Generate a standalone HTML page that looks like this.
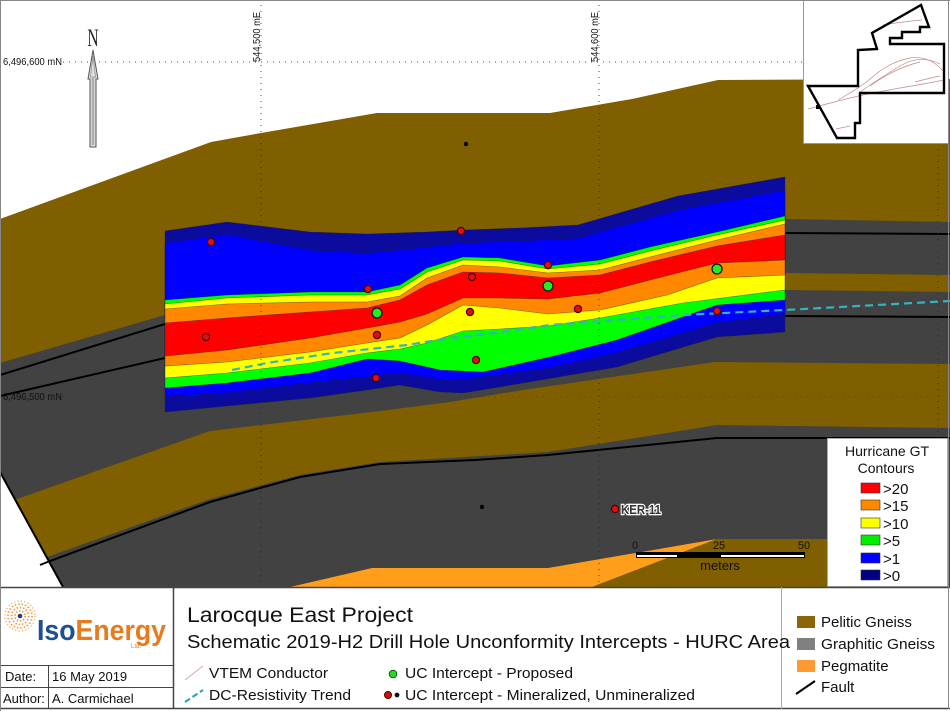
<!DOCTYPE html>
<html>
<head>
<meta charset="utf-8">
<style>
  html,body{margin:0;padding:0;background:#fff;}
  body{width:950px;height:711px;overflow:hidden;}
  svg{display:block;font-family:"Liberation Sans",Arial,sans-serif;}
</style>
</head>
<body>
<svg width="950" height="711" viewBox="0 0 950 711" xmlns="http://www.w3.org/2000/svg">
  <rect x="0" y="0" width="950" height="711" fill="#fff"/>

  <!-- ===== MAP GEOLOGY ===== -->
  <polygon fill="#7f5f00" points="0,219 211,142 261,133 377,113 550,113 632,99 718,80 950,79 950,587 0,587"/>
  <polygon fill="#424242" points="0,363 165,315 785,219 950,222 950,587 0,587"/>
  <polygon fill="#7f5f00" points="785,273 950,275 950,292 785,290"/>
  <polygon fill="#7f5f00" points="0,505 210,431 380,411 450,402 523,390 715,362 950,364 950,428 717,425 548,452 380,462 300,475 210,499 50,556 0,575"/>
  <polygon fill="#ff9e1b" points="290,587 372,568 548,568 717,539 592,587"/>
  <polygon fill="#7f5f00" points="717,539 827,539 827,587 592,587"/>
  <polygon fill="#fff" points="0,472 63,587 0,587"/>
  <line x1="0" y1="472" x2="63" y2="587" stroke="#000" stroke-width="2"/>

  <g stroke="#000" stroke-width="2" fill="none">
    <line x1="0" y1="375" x2="165" y2="324"/>
    <line x1="0" y1="396" x2="165" y2="358"/>
    <line x1="785" y1="233" x2="950" y2="234"/>
    <line x1="785" y1="316" x2="950" y2="317"/>
    <polyline points="40,565 50,561 210,502 260,488 300,477 380,464 475,460 548,455 717,438 950,438"/>
  </g>

  <!-- ===== CONTOURS ===== -->
  <g stroke="#222" stroke-width="0.6" stroke-opacity="0.6">
    <polygon fill="#0b0b9e" points="165,231 227,222 310,232 367,234 427,232 463,230 520,228 578,225 678,196 785,177 785,332 717,337 617,367 523,383 463,393 440,392 400,385 367,390 310,398 227,406 165,412"/>
    <polygon fill="#0000ff" points="165,243 227,234 310,250 367,253 427,247 463,243 520,241 578,238 678,210 785,190 785,314 717,323 617,353 550,368 463,380 440,380 400,373 367,377 310,383 227,393 165,397"/>
    <polygon fill="#00ff00" points="165,300 227,295 310,292 367,292 400,285 427,268 463,257 500,258 548,266 600,260 650,247 717,232 785,216 785,300 717,305 617,340 550,357 483,372 440,370 400,361 367,359 310,373 227,383 165,388"/>
    <polygon fill="#ffff00" points="165,304 227,298 310,295 367,295 400,289 427,272 463,260 500,261 548,269 600,264 650,251 717,235 785,220 785,290 683,303 600,318 548,326 500,329 463,331 427,343 400,349 367,353 310,363 227,373 165,378"/>
    <polygon fill="#ff8800" points="165,309 227,304 310,302 367,302 400,296 427,278 463,265 500,267 548,273 600,270 650,257 717,240 785,224 785,275 717,278 667,295 600,310 548,314 500,308 463,305 427,325 400,338 367,343 310,352 227,362 165,366"/>
    <polygon fill="#ff0000" points="165,323 227,318 310,312 367,308 400,300 427,285 463,272 500,273 548,278 600,275 650,262 717,246 785,235 785,260 717,263 650,280 600,293 548,299 500,298 463,298 427,314 400,322 367,328 310,338 227,350 165,356"/>
  </g>

  <polyline fill="none" stroke="#33b5bd" stroke-width="2.2" stroke-dasharray="8,5" points="232,370 267,363 333,353 407,345 450,338 480,335 550,325 683,315 785,310 950,301"/>

  <!-- Grid -->
  <g stroke="#222" stroke-width="1" stroke-dasharray="1,5" fill="none" opacity="0.8">
    <line x1="261" y1="5" x2="261" y2="587"/>
    <line x1="599" y1="5" x2="599" y2="587"/>
    <line x1="938" y1="143" x2="938" y2="587"/>
    <line x1="63" y1="62" x2="803" y2="62"/>
    <line x1="63" y1="397" x2="950" y2="397" opacity="0.5"/>
  </g>
  <g font-size="10.5" fill="#111">
    <text x="3" y="65" textLength="59" lengthAdjust="spacingAndGlyphs">6,496,600 mN</text>
    <text x="3" y="400" textLength="59" lengthAdjust="spacingAndGlyphs">6,496,500 mN</text>
    <text transform="translate(261,62) rotate(-90)" x="0" y="-1" textLength="50" lengthAdjust="spacingAndGlyphs">544,500 mE</text>
    <text transform="translate(599,62) rotate(-90)" x="0" y="-1" textLength="50" lengthAdjust="spacingAndGlyphs">544,600 mE</text>
  </g>

  <!-- North arrow -->
  <text x="93" y="46" font-family="Liberation Serif, serif" font-size="25" text-anchor="middle" transform="translate(93,0) scale(0.62,1) translate(-93,0)" fill="#222">N</text>
  <polygon points="93,50 98,79 96,79 96,147 90,147 90,79 88,79" fill="#e0e0e0" stroke="#555" stroke-width="1"/>
  <polyline points="93,56 95.5,77 93.8,77 93.8,145" fill="none" stroke="#888" stroke-width="0.7"/>
  <polyline points="93,56 90.5,77 92.2,77 92.2,145" fill="none" stroke="#888" stroke-width="0.7"/>

  <!-- Drill hole dots -->
  <g stroke="#4a0000" stroke-width="1.2" fill="#e01010">
    <circle cx="211" cy="242" r="3.6"/>
    <circle cx="461" cy="231" r="3.6"/>
    <circle cx="472" cy="277" r="3.6"/>
    <circle cx="548" cy="265" r="3.6"/>
    <circle cx="368" cy="289" r="3.6"/>
    <circle cx="206" cy="337" r="3.6"/>
    <circle cx="377" cy="335" r="3.6"/>
    <circle cx="470" cy="312" r="3.6"/>
    <circle cx="578" cy="309" r="3.6"/>
    <circle cx="717" cy="311" r="3.6"/>
    <circle cx="476" cy="360" r="3.6"/>
    <circle cx="376" cy="378" r="3.6"/>
    <circle cx="615" cy="509" r="3.6"/>
  </g>
  <g stroke="#111" stroke-width="1.3" fill="#22ee22">
    <circle cx="377" cy="313" r="5"/>
    <circle cx="548" cy="286" r="5"/>
    <circle cx="717" cy="269" r="5"/>
  </g>
  <circle cx="466" cy="144" r="2.2" fill="#000"/>
  <circle cx="482" cy="507" r="2.2" fill="#000"/>
  <text x="621" y="514" font-size="12.5" font-weight="bold" fill="#333" stroke="#fff" stroke-width="2.4" paint-order="stroke" textLength="40" lengthAdjust="spacingAndGlyphs">KER-11</text>

  <!-- ===== INSET ===== -->
  <rect x="803.5" y="0.5" width="145" height="143" fill="#fff" stroke="#999" stroke-width="1"/>
  <g fill="none" stroke="#b06a6a" stroke-width="0.7" opacity="0.8">
    <path d="M808,109 Q830,103 850,98 T900,88 T944,80"/>
    <path d="M836,129 L850,126"/>
    <path d="M838,100 Q860,88 875,75 T910,58 Q930,55 944,72"/>
    <path d="M860,92 Q880,78 900,66 T940,64"/>
    <path d="M870,86 Q895,68 920,62"/>
    <path d="M883,25 Q900,22 922,20"/>
    <path d="M915,82 Q930,78 940,76"/>
  </g>
  <polygon fill="none" stroke="#000" stroke-width="2.4" stroke-linejoin="miter" points="808,86 858,86 858,50 877,49 872,33 921,5 929,27 920,27 920,32 902,32 902,38 890,38 890,44 944,44 944,93 860,93 860,123 855,123 855,138 837,138"/>
  <rect x="816" y="105" width="4" height="4" fill="#000"/>

  <!-- ===== CONTOUR LEGEND ===== -->
  <rect x="827.5" y="438.5" width="120" height="148" fill="#fff" stroke="#aaa" stroke-width="1"/>
  <g font-size="14" fill="#111" text-anchor="middle">
    <text x="887" y="456">Hurricane GT</text>
    <text x="886" y="473">Contours</text>
  </g>
  <g stroke="#333" stroke-width="0.6">
    <rect x="861" y="483" width="19" height="10" fill="#ff0000"/>
    <rect x="861" y="500" width="19" height="10" fill="#ff8800"/>
    <rect x="861" y="518" width="19" height="10" fill="#ffff00"/>
    <rect x="861" y="535" width="19" height="10" fill="#00ee00"/>
    <rect x="861" y="553" width="19" height="10" fill="#0000ff"/>
    <rect x="861" y="570" width="19" height="10" fill="#000080"/>
  </g>
  <g font-size="15" fill="#111">
    <text x="883" y="494">&gt;20</text>
    <text x="883" y="511">&gt;15</text>
    <text x="883" y="529">&gt;10</text>
    <text x="883" y="546">&gt;5</text>
    <text x="883" y="564">&gt;1</text>
    <text x="883" y="581">&gt;0</text>
  </g>

  <!-- Scale bar -->
  <g font-size="11" fill="#111" text-anchor="middle">
    <text x="635" y="549">0</text>
    <text x="719" y="549">25</text>
    <text x="804" y="549">50</text>
  </g>
  <rect x="636" y="552" width="169" height="6" fill="#000"/>
  <rect x="637" y="555" width="40" height="2" fill="#fff"/>
  <rect x="721" y="555" width="83" height="2" fill="#fff"/>
  <text x="720" y="570" font-size="13" fill="#111" text-anchor="middle">meters</text>

  <!-- ===== TITLE BLOCK ===== -->
  <rect x="0" y="587.5" width="950" height="124" fill="#fff"/>
  <g stroke="#444" fill="none">
    <line x1="0" y1="587.5" x2="950" y2="587.5" stroke-width="1.5"/>
    <line x1="0" y1="708.5" x2="950" y2="708.5" stroke-width="1.5"/>
    <line x1="0.5" y1="587" x2="0.5" y2="709" stroke-width="1"/>
    <line x1="948.5" y1="0" x2="948.5" y2="709" stroke-width="1" stroke="#888"/>
    <line x1="173.5" y1="587" x2="173.5" y2="709" stroke-width="1.5"/>
    <line x1="0" y1="665.5" x2="173" y2="665.5" stroke-width="1"/>
    <line x1="0" y1="687.5" x2="173" y2="687.5" stroke-width="1"/>
    <line x1="48.5" y1="665" x2="48.5" y2="709" stroke-width="1"/>
    <line x1="781.5" y1="587" x2="781.5" y2="709" stroke-width="1" stroke="#aaa"/>
  </g>
  <line x1="0" y1="0.5" x2="950" y2="0.5" stroke="#888" stroke-width="1"/>
  <line x1="0.5" y1="0" x2="0.5" y2="711" stroke="#888" stroke-width="1"/>

  <!-- Logo -->
  <g fill="none" stroke="#ee9a4a">
    <circle cx="20" cy="616" r="5" stroke-width="1.8" stroke-dasharray="1.4,1.8"/>
    <circle cx="20" cy="616" r="8.5" stroke-width="1.8" stroke-dasharray="1.4,1.9"/>
    <circle cx="20" cy="616" r="12" stroke-width="1.8" stroke-dasharray="1.4,2"/>
    <circle cx="20" cy="616" r="15" stroke-width="1.4" stroke-dasharray="1.2,2.2" opacity="0.8"/>
  </g>
  <circle cx="20" cy="616" r="2.3" fill="#1c3f7a"/>
  <text x="37" y="640" font-size="29" font-weight="bold" textLength="129" lengthAdjust="spacingAndGlyphs"><tspan fill="#1f4f93">Iso</tspan><tspan fill="#e87b1e">Energy</tspan></text>
  <text x="131" y="648" font-size="6" fill="#e87b1e">Ltd.</text>

  <g font-size="13" fill="#111">
    <text x="5" y="681">Date:</text>
    <text x="52" y="681">16 May 2019</text>
    <text x="3" y="703">Author:</text>
    <text x="52" y="703">A. Carmichael</text>
  </g>

  <text x="187" y="622" font-size="21" fill="#111" textLength="226" lengthAdjust="spacingAndGlyphs">Larocque East Project</text>
  <text x="187" y="648" font-size="18" fill="#111" textLength="603" lengthAdjust="spacingAndGlyphs">Schematic 2019-H2 Drill Hole Unconformity Intercepts - HURC Area</text>

  <line x1="185" y1="680" x2="203" y2="666" stroke="#d8a8a8" stroke-width="1"/>
  <line x1="185" y1="702" x2="203" y2="690" stroke="#1fa5a5" stroke-width="2" stroke-dasharray="6,3"/>
  <g font-size="15" fill="#111">
    <text x="209" y="678" textLength="119" lengthAdjust="spacingAndGlyphs">VTEM Conductor</text>
    <text x="209" y="700" textLength="142" lengthAdjust="spacingAndGlyphs">DC-Resistivity Trend</text>
    <text x="405" y="678" textLength="168" lengthAdjust="spacingAndGlyphs">UC Intercept - Proposed</text>
    <text x="405" y="700" textLength="290" lengthAdjust="spacingAndGlyphs">UC Intercept - Mineralized, Unmineralized</text>
  </g>
  <circle cx="393" cy="674" r="3.8" fill="#22dd22" stroke="#115511" stroke-width="1"/>
  <circle cx="388" cy="695" r="3.5" fill="#cc1111" stroke="#550000" stroke-width="1"/>
  <circle cx="397" cy="695" r="2.4" fill="#111"/>

  <rect x="797" y="616" width="18" height="12" fill="#8b6508"/>
  <rect x="797" y="638" width="18" height="12" fill="#808080"/>
  <rect x="797" y="660" width="18" height="12" fill="#ff9933"/>
  <line x1="796" y1="694" x2="815" y2="681" stroke="#000" stroke-width="2"/>
  <g font-size="15" fill="#111">
    <text x="821" y="627">Pelitic Gneiss</text>
    <text x="821" y="649" textLength="114" lengthAdjust="spacingAndGlyphs">Graphitic Gneiss</text>
    <text x="821" y="671">Pegmatite</text>
    <text x="821" y="692">Fault</text>
  </g>
</svg>
</body>
</html>
